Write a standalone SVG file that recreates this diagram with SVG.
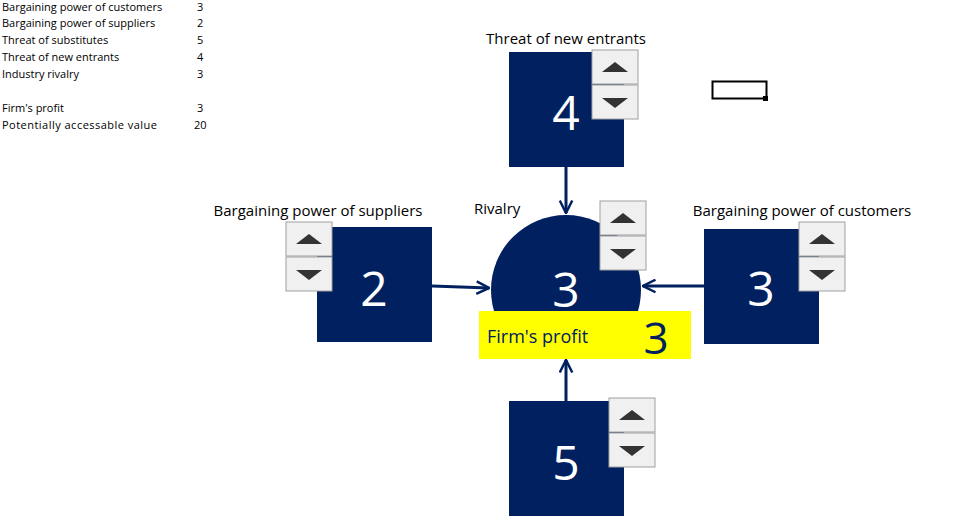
<svg xmlns="http://www.w3.org/2000/svg" width="956" height="527" viewBox="0 0 956 527">
<style>
.t{font-family:"Open Sans","Liberation Sans",sans-serif;font-size:11px;fill:#000}
.lab{font-family:"Open Sans","Liberation Sans",sans-serif;font-size:15px;fill:#000}
.big{font-family:"Open Sans","Liberation Sans",sans-serif;font-size:48px;fill:#fff;text-anchor:middle}
.box{fill:#002060}
.btn{fill:#f0f0f0;stroke:#a0a0a0;stroke-width:1}
.tri{fill:#333}
.ar{stroke:#002060;stroke-width:3;fill:none}
</style>
<defs>
<marker id="ah" viewBox="0 0 12 12" refX="11" refY="6" markerWidth="5" markerHeight="5" orient="auto" markerUnits="strokeWidth">
<path d="M1,1 L11,6 L1,11" fill="none" stroke="#002060" stroke-width="2"/>
</marker>
<clipPath id="cc"><rect x="480" y="200" width="200" height="159"/></clipPath>
<g id="spin">
<rect class="btn" x="0" y="0" width="46" height="34"/>
<rect class="btn" x="0" y="35" width="46" height="34"/>
<path class="tri" d="M10,22 L23,12 L36,22 Z"/>
<path class="tri" d="M10,48 L36,48 L23,58 Z"/>
</g>
</defs>
<g id="table">
<text class="t" x="2" y="11">Bargaining power of customers</text><text class="t" x="197" y="11">3</text>
<text class="t" x="2" y="27">Bargaining power of suppliers</text><text class="t" x="197" y="27">2</text>
<text class="t" x="2" y="44">Threat of substitutes</text><text class="t" x="197" y="44">5</text>
<text class="t" x="2" y="61">Threat of new entrants</text><text class="t" x="197" y="61">4</text>
<text class="t" x="2" y="78">Industry rivalry</text><text class="t" x="197" y="78">3</text>
<text class="t" x="2" y="112">Firm's profit</text><text class="t" x="197" y="112">3</text>
<text class="t" x="2" y="129" textLength="155">Potentially accessable value</text><text class="t" x="194" y="129">20</text>
</g>
<g id="connectors">
<line class="ar" x1="566" y1="167" x2="566" y2="213" marker-end="url(#ah)"/>
<line class="ar" x1="432" y1="286" x2="489" y2="288" marker-end="url(#ah)"/>
<line class="ar" x1="704" y1="286" x2="643" y2="286" marker-end="url(#ah)"/>
<line class="ar" x1="566" y1="401" x2="566" y2="360" marker-end="url(#ah)"/>
</g>
<g id="rivalry">
<circle class="box" cx="566" cy="290" r="75" clip-path="url(#cc)"/>
<text class="big" x="566" y="307">3</text>
<text class="lab" x="474" y="214">Rivalry</text>
</g>
<g id="profit">
<rect x="479" y="311" width="212" height="48" fill="#ffff00"/>
<text x="487" y="343" font-family="Open Sans, Liberation Sans, sans-serif" font-size="18" fill="#002060">Firm's profit</text>
<text x="656" y="354" font-family="Open Sans, Liberation Sans, sans-serif" font-size="44" fill="#002060" text-anchor="middle">3</text>
</g>
<g id="entrants">
<rect class="box" x="509" y="52" width="115" height="115"/>
<text class="big" x="566" y="130">4</text>
<text class="lab" x="566" y="44" text-anchor="middle">Threat of new entrants</text>
</g>
<g id="suppliers">
<rect class="box" x="317" y="227" width="115" height="115"/>
<text class="big" x="374" y="306">2</text>
<text class="lab" x="318" y="216" text-anchor="middle">Bargaining  power of suppliers</text>
</g>
<g id="customers">
<rect class="box" x="704" y="229" width="115" height="115"/>
<text class="big" x="761" y="306">3</text>
<text class="lab" x="802" y="216" text-anchor="middle">Bargaining  power of customers</text>
</g>
<g id="substitutes">
<rect class="box" x="509" y="401" width="115" height="115"/>
<text class="big" x="566" y="480">5</text>
</g>
<use href="#spin" x="592" y="50"/>
<use href="#spin" x="286" y="222"/>
<use href="#spin" x="799" y="222"/>
<use href="#spin" x="600" y="201"/>
<use href="#spin" x="609" y="398"/>
<g id="cell">
<rect x="712.5" y="81.5" width="54" height="17" fill="none" stroke="#000" stroke-width="2"/>
<rect x="763" y="96" width="5" height="5" fill="#000"/>
</g>
</svg>
